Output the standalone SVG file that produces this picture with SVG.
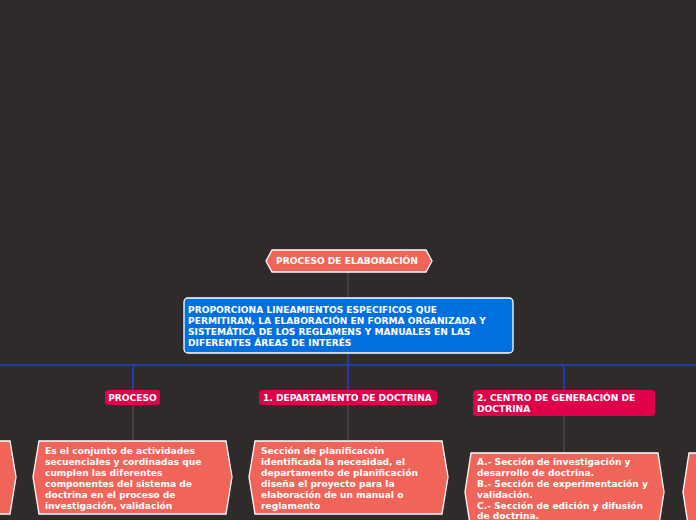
<svg xmlns="http://www.w3.org/2000/svg" width="696" height="520" viewBox="0 0 696 520">
<style>
.t{font-family:"DejaVu Sans",Verdana,sans-serif;font-weight:bold;fill:#fff;font-size:9.1px}
.hx{fill:#f1645a;stroke:#fff;stroke-width:1.3}
.lb{fill:#e0004a}
.g{stroke:#555;stroke-width:1;fill:none}
.b{stroke:#1f3fd0;stroke-width:1.6;fill:none}
</style>
<rect width="696" height="520" fill="#302b2b"/>
<g id="connectors">
<line class="g" x1="348" y1="272" x2="348" y2="298"/>
<line class="b" x1="348" y1="353" x2="348" y2="390"/>
<path class="b" d="M0 365H696M133 390V369q0-4 4-4M564 390V369q0-4-4-4"/>
<line class="g" x1="133" y1="405" x2="133" y2="441"/>
<line class="g" x1="348" y1="405" x2="348" y2="441"/>
<line class="g" x1="564" y1="416" x2="564" y2="453"/>
</g>
<g id="title"><polygon class="hx" points="272,250 426,250 432,261 426,272 272,272 266,261"/>
<text class="t" x="347" y="264" text-anchor="middle" font-size="8.3">PROCESO DE ELABORACIÓN</text></g>
<g id="main"><rect x="184" y="298" width="329" height="55" rx="4" fill="#0070e0" stroke="#fff" stroke-width="1.3"/>
<text class="t" x="188" y="313">PROPORCIONA LINEAMIENTOS ESPECIFICOS QUE</text>
<text class="t" x="188" y="324">PERMITIRAN, LA ELABORACIÓN EN FORMA ORGANIZADA Y</text>
<text class="t" x="188" y="335">SISTEMÁTICA DE LOS REGLAMENS Y MANUALES EN LAS</text>
<text class="t" x="188" y="346">DIFERENTES ÁREAS DE INTERÉS</text></g>
<g id="proceso"><rect class="lb" x="105" y="390" width="55" height="15" rx="3"/><text class="t" x="132.5" y="401" text-anchor="middle">PROCESO</text></g>
<g id="depto"><rect class="lb" x="259" y="390" width="178" height="15" rx="3"/><text class="t" x="263" y="401">1. DEPARTAMENTO DE DOCTRINA</text></g>
<g id="centro"><rect class="lb" x="473" y="390" width="182" height="26" rx="3"/><text class="t" x="477" y="401">2. CENTRO DE GENERACIÓN DE</text><text class="t" x="477" y="412">DOCTRINA</text></g>
<g id="n1"><polygon class="hx" points="39,441 226,441 232,477 226,514 39,514 33,477"/>
<text class="t" x="45" y="454">Es el conjunto de actividades</text>
<text class="t" x="45" y="465">secuenciales y cordinadas que</text>
<text class="t" x="45" y="476">cumplen las diferentes</text>
<text class="t" x="45" y="487">componentes del sistema de</text>
<text class="t" x="45" y="498">doctrina en el proceso de</text>
<text class="t" x="45" y="509">investigación, validación</text></g>
<g id="n2"><polygon class="hx" points="255,441 442,441 448,477 442,514 255,514 249,477"/>
<text class="t" x="261" y="454">Sección de planificacoin</text>
<text class="t" x="261" y="465">identificada la necesidad, el</text>
<text class="t" x="261" y="476">departamento de planificación</text>
<text class="t" x="261" y="487">diseña el proyecto para la</text>
<text class="t" x="261" y="498">elaboración de un manual o</text>
<text class="t" x="261" y="509">reglamento</text></g>
<g id="n3"><polygon class="hx" points="471,453 658,453 664,492 658,531 471,531 465,492"/>
<text class="t" x="477" y="465">A.- Sección de investigación y</text>
<text class="t" x="477" y="476">desarrollo de doctrina.</text>
<text class="t" x="477" y="487">B.- Sección de experimentación y</text>
<text class="t" x="477" y="498">validación.</text>
<text class="t" x="477" y="509">C.- Sección de edición y difusión</text>
<text class="t" x="477" y="519">de doctrina.</text></g>
<g id="nleft"><polygon class="hx" points="-200,441 10,441 16,477 10,514 -200,514"/></g>
<g id="nright"><polygon class="hx" points="689,453 900,453 900,531 689,531 683,492"/></g>
</svg>
